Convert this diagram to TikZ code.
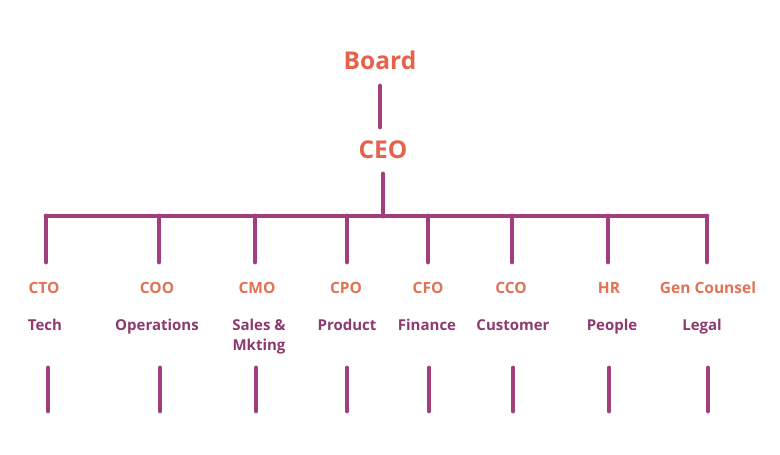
\documentclass[tikz,border=0pt]{standalone}
\usepackage{fontspec}
\setmainfont{Open Sans}
\definecolor{linec}{HTML}{A13F7C}
\definecolor{headc}{HTML}{E5634B}
\definecolor{titlec}{HTML}{E07256}
\definecolor{subc}{HTML}{8C3A6E}
\begin{document}
\begin{tikzpicture}[x=1pt,y=-1pt,
  conn/.style={draw=linec,line width=4.8pt,line cap=round},
  head/.style={text=headc,font=\fontsize{24.5}{26}\selectfont\bfseries,inner sep=0pt},
  ttl/.style={text=titlec,font=\fontsize{15.5}{17}\selectfont\bfseries,inner sep=0pt},
  sub/.style={text=subc,font=\fontsize{15}{20}\selectfont\bfseries,inner sep=0pt,align=center,anchor=north}]
\useasboundingbox (0,0) rectangle (780,455);
\node[head] (board) at (380,60) {Board};
\node[head] (ceo) at (383,150) {CEO};
\coordinate (b1) at (380,86);
\coordinate (b2) at (380,127);
\draw[conn] (b1) -- (b2);
\coordinate (c1) at (383,174);
\coordinate (c2) at (383,216);
\draw[conn] (c1) -- (c2);
\coordinate (barL) at (46,216);
\coordinate (barR) at (707,216);
\draw[conn] (barL|-c2) -- (barR);
\foreach \n/\x/\bx/\t/\tx/\s/\sx in {
  a/46/48/CTO/44/Tech/45,
  b/159/160/COO/157/Operations/157,
  c/255/256/CMO/257/Sales \&\\Mkting/259,
  d/347/347/CPO/346/Product/347,
  e/428/429/CFO/428/Finance/427,
  f/512/513/CCO/511/Customer/513,
  g/608/609/HR/609/People/612,
  h/707/708/Gen Counsel/708/Legal/702}{
  \coordinate (top\n) at (\x,216);
  \coordinate (drop\n) at (\x,262);
  \draw[conn] (top\n) -- (drop\n);
  \node[ttl] (t\n) at (\tx,288) {\t};
  \node[sub] (s\n) at (\sx,319) {\s};
  \coordinate (l\n) at (\bx,368);
  \coordinate (m\n) at (\bx,411);
  \draw[conn] (l\n) -- (m\n);
}
\end{tikzpicture}
\end{document}
